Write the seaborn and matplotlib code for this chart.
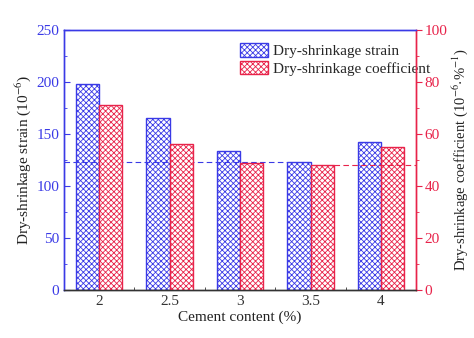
import matplotlib
matplotlib.use("Agg")
import matplotlib.pyplot as plt
import seaborn as sns
import pandas as pd
from matplotlib.patches import Patch

cement = ["2", "2.5", "3", "3.5", "4"]
strain = [198, 165, 134, 123, 142]
coef = [71, 56, 49, 48, 55]
series_names = ["Dry-shrinkage strain", "Dry-shrinkage coefficient"]

BLUE = "#3a3ae6"
RED = "#e8234a"

sns.set_style("ticks")
plt.rcParams["font.family"] = ["Liberation Serif", "DejaVu Serif"]
plt.rcParams["mathtext.fontset"] = "stix"
plt.rcParams["hatch.linewidth"] = 0.6

fig = plt.figure(figsize=(4.74, 3.38), dpi=100)
ax1 = fig.add_axes([0.135, 0.142, 0.743, 0.769])
ax2 = ax1.twinx()

df1 = pd.DataFrame({"cement": cement, "value": strain})
df2 = pd.DataFrame({"cement": cement, "value": coef})

bw = 0.33
sns.barplot(data=df1, x="cement", y="value", order=cement, width=bw, ax=ax1,
            errorbar=None, color="white")
sns.barplot(data=df2, x="cement", y="value", order=cement, width=bw, ax=ax2,
            errorbar=None, color="white")

HATCH = "xxxxxx"
for p in ax1.patches:
    p.set_x(p.get_x() - bw / 2)
    p.set_facecolor("white")
    p.set_edgecolor(BLUE)
    p.set_hatch(HATCH)
    p.set_linewidth(1.0)
for p in ax2.patches:
    p.set_x(p.get_x() + bw / 2)
    p.set_facecolor("white")
    p.set_edgecolor(RED)
    p.set_hatch(HATCH)
    p.set_linewidth(1.0)

ax1.set_xlim(-0.5, 4.5)
ax1.set_ylim(0, 250)
ax2.set_ylim(0, 100)

# reference dashed lines at the 3.5% level
ax1.hlines(strain[3], -0.5, 3 - bw, colors=BLUE, linestyles=(0, (5, 3)), linewidth=0.8, zorder=5)
ax2.hlines(coef[3], 3 + bw, 4.5, colors=RED, linestyles=(0, (5, 3)), linewidth=0.8, zorder=5)

ax1.set_yticks(range(0, 251, 50))
ax1.set_yticks(range(25, 250, 50), minor=True)
ax2.set_yticks(range(0, 101, 20))
ax2.set_yticks(range(10, 100, 20), minor=True)
ax1.set_xticks(range(5))
ax1.set_xticklabels(cement)
ax1.set_xticks([0.5, 1.5, 2.5, 3.5], minor=True)

fs = 11
ax1.tick_params(axis="y", which="both", direction="in", colors=BLUE, labelsize=fs)
ax1.tick_params(axis="y", which="major", length=4)
ax1.tick_params(axis="y", which="minor", length=2.5)
ax1.tick_params(axis="x", which="both", direction="in", colors="#333333", labelsize=fs)
ax1.tick_params(axis="x", which="major", length=0)
ax1.tick_params(axis="x", which="minor", length=2.5)
ax2.tick_params(axis="y", which="both", direction="out", colors=RED, labelsize=fs, pad=2)
ax2.tick_params(axis="y", which="major", length=4)
ax2.tick_params(axis="y", which="minor", length=2.5)

for ax in (ax1, ax2):
    ax.spines["left"].set_color(BLUE)
    ax.spines["top"].set_color(BLUE)
    ax.spines["right"].set_color(RED)
    ax.spines["bottom"].set_color("#333333")
    for s in ax.spines.values():
        s.set_visible(True)
        s.set_linewidth(1.0)

ax1.set_xlabel("Cement content (%)", fontsize=fs, color="#222222", labelpad=2)
ax1.set_ylabel("Dry-shrinkage strain (10$^{-6}$)", fontsize=fs, color="#222222", labelpad=2)
ax2.set_ylabel("Dry-shrinkage coefficient (10$^{-6}$$\\cdot$%$^{-1}$)", fontsize=10.5,
               color="#222222", labelpad=2)

handles = [Patch(facecolor="white", edgecolor=BLUE, hatch=HATCH, label=series_names[0]),
           Patch(facecolor="white", edgecolor=RED, hatch=HATCH, label=series_names[1])]
ax1.legend(handles=handles, loc="upper left", bbox_to_anchor=(0.475, 0.985), frameon=False,
           fontsize=fs, handlelength=1.8, handleheight=1.0, handletextpad=0.3,
           labelspacing=0.15, borderaxespad=0.2)

fig.savefig("out.png", dpi=100)
